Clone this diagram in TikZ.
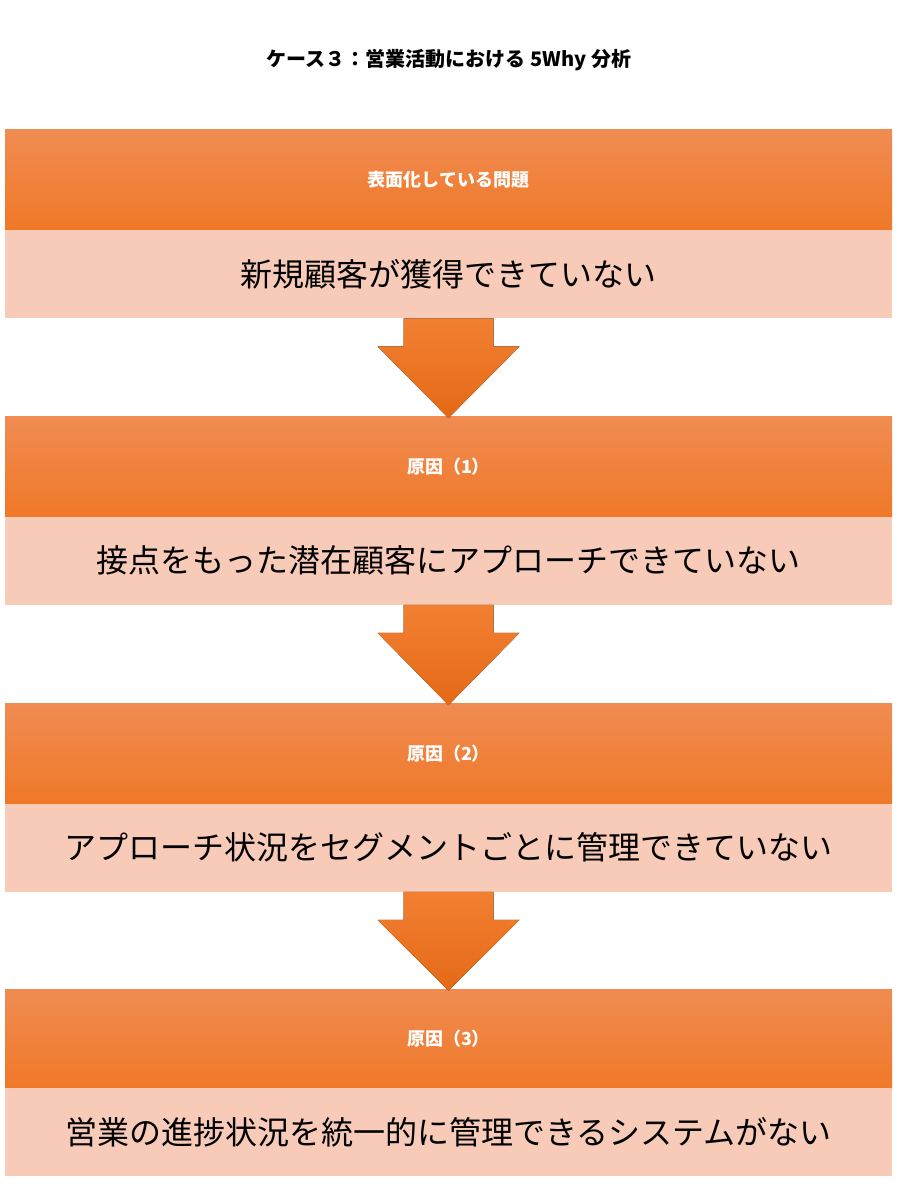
\documentclass[tikz,border=0pt]{standalone}
\usepackage{fontspec}
\setmainfont{Noto Sans CJK JP}
\usetikzlibrary{positioning,calc}
\definecolor{hdtop}{RGB}{240,140,82}
\definecolor{hdbot}{RGB}{240,120,40}
\definecolor{bodyfill}{RGB}{248,203,185}
\definecolor{arrtop}{RGB}{242,128,50}
\definecolor{arrbot}{RGB}{228,105,22}
\tikzstyle{Hbox}=[rectangle,minimum width=443.5pt,minimum height=50pt,inner sep=0pt,top color=hdtop,bottom color=hdbot,text=white,font=\bfseries\fontsize{9}{9}\selectfont]
\tikzstyle{Bbox}=[rectangle,minimum width=443.5pt,minimum height=44pt,inner sep=0pt,fill=bodyfill,font=\fontsize{16}{16}\selectfont]
\tikzstyle{downarrow}=[top color=arrtop,bottom color=arrbot,draw=none]

\begin{document}
\begin{tikzpicture}[x=0.5pt,y=-0.5pt]
 \useasboundingbox (0,0) rectangle (898,1202);
 \node[font=\bfseries\fontsize{10}{10}\selectfont] (title) at (449,60) {ケース３：営業活動における 5Why 分析};

 \node[Hbox] (h1) at (448.5,180) {表面化している問題};
 \node[Bbox] (b1) at (448.5,274) {新規顧客が獲得できていない};

 \node[Hbox] (h2) at (448.5,466.5) {原因（1）};
 \node[Bbox] (b2) at (448.5,560.5) {接点をもった潜在顧客にアプローチできていない};

 \node[Hbox] (h3) at (448.5,753.5) {原因（2）};
 \node[Bbox] (b3) at (448.5,847.5) {アプローチ状況をセグメントごとに管理できていない};

 \node[Hbox] (h4) at (448.5,1039) {原因（3）};
 \node[Bbox] (b4) at (448.5,1132) {営業の進捗状況を統一的に管理できるシステムがない};

 % arrows between the boxes
 \foreach \a/\b in {b1/h2,b2/h3,b3/h4}{
  \fill[downarrow] ($(\a.south)+(-22.5pt,0)$) -- ($(\a.south)+(22.5pt,0)$)
   -- ($(\a.south)+(22.5pt,-14pt)$) -- ($(\a.south)+(35.5pt,-14pt)$)
   -- ($(\b.north)+(0,-1pt)$)
   -- ($(\a.south)+(-35.5pt,-14pt)$) -- ($(\a.south)+(-22.5pt,-14pt)$) -- cycle;
 }
\end{tikzpicture}
\end{document}
